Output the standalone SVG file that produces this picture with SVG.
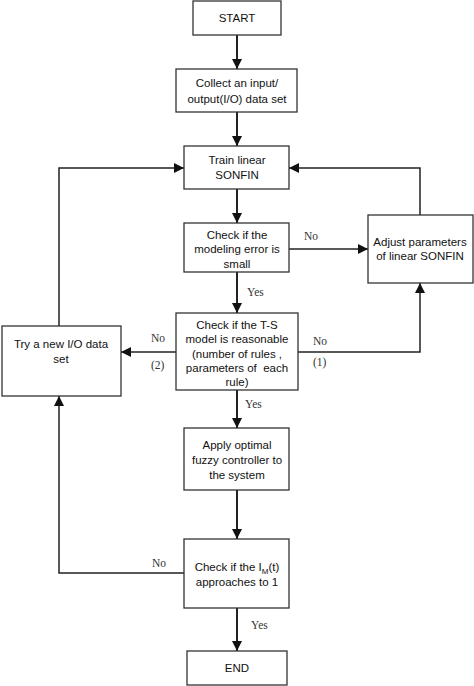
<svg xmlns="http://www.w3.org/2000/svg" width="474" height="686" viewBox="0 0 474 686">
<defs>
<marker id="ah" viewBox="0 0 10 10" refX="10" refY="5" markerWidth="10" markerHeight="10" markerUnits="userSpaceOnUse" orient="auto"><path d="M0,0 L10,5 L0,10 z" fill="#111"/></marker>
<style>
.box{fill:#fff;stroke:#333;stroke-width:1.3}
.t{font-family:"Liberation Sans",Arial,sans-serif;font-size:11.5px;fill:#111;text-anchor:middle}
.l{font-family:"Liberation Serif","Times New Roman",serif;font-size:11.5px;fill:#333}
.c{fill:none;stroke:#222;stroke-width:1.5}
.v{fill:none;stroke:#222;stroke-width:2}
</style>
</defs>
<rect width="474" height="686" fill="#fff"/>
<g id="connectors">
<path class="v" d="M237,35 V69" marker-end="url(#ah)"/>
<path class="v" d="M237,112 V146" marker-end="url(#ah)"/>
<path class="v" d="M237,189 V223" marker-end="url(#ah)"/>
<path class="v" d="M237,272 V313" marker-end="url(#ah)"/>
<path class="v" d="M237,390 V428" marker-end="url(#ah)"/>
<path class="v" d="M237,490 V539" marker-end="url(#ah)"/>
<path class="v" d="M237,608 V651" marker-end="url(#ah)"/>
<path class="c" d="M289,249 H368" marker-end="url(#ah)"/>
<path class="c" d="M420,215 V168 H289" marker-end="url(#ah)"/>
<path class="c" d="M298,352 H420 V283" marker-end="url(#ah)"/>
<path class="c" d="M176,352 H121" marker-end="url(#ah)"/>
<path class="c" d="M59,326 V168 H184" marker-end="url(#ah)"/>
<path class="c" d="M184,573 H59 V396" marker-end="url(#ah)"/>
<text class="l" x="304" y="240">No</text>
<text class="l" x="247" y="296">Yes</text>
<text class="l" x="151" y="342">No</text>
<text class="l" x="151" y="369">(2)</text>
<text class="l" x="313" y="345">No</text>
<text class="l" x="313" y="366">(1)</text>
<text class="l" x="245" y="408">Yes</text>
<text class="l" x="152" y="567">No</text>
<text class="l" x="251" y="629">Yes</text>
</g>
<g id="start"><rect class="box" x="193" y="1" width="88" height="34"/><text class="t" x="237" y="22">START</text></g>
<g id="collect"><rect class="box" x="176" y="69" width="121" height="43"/><text class="t" x="237" y="87">Collect an input/</text><text class="t" x="237" y="103">output(I/O) data set</text></g>
<g id="train"><rect class="box" x="184" y="146" width="105" height="43"/><text class="t" x="237" y="164">Train linear</text><text class="t" x="237" y="179">SONFIN</text></g>
<g id="check-error"><rect class="box" x="184" y="223" width="105" height="49"/><text class="t" x="237" y="239">Check if the</text><text class="t" x="237" y="253">modeling error is</text><text class="t" x="237" y="268">small</text></g>
<g id="adjust"><rect class="box" x="368" y="215" width="105" height="68"/><text class="t" x="420" y="246">Adjust parameters</text><text class="t" x="420" y="260">of linear SONFIN</text></g>
<g id="try"><rect class="box" x="2" y="326" width="119" height="70"/><text class="t" x="61" y="348">Try a new I/O data</text><text class="t" x="61" y="363">set</text></g>
<g id="check-ts"><rect class="box" x="176" y="313" width="122" height="77"/><text class="t" x="237" y="329">Check if the T-S</text><text class="t" x="237" y="343">model is reasonable</text><text class="t" x="237" y="358">(number of rules ,</text><text class="t" x="237" y="372" xml:space="preserve">parameters of  each</text><text class="t" x="237" y="386">rule)</text></g>
<g id="apply"><rect class="box" x="184" y="428" width="105" height="62"/><text class="t" x="237" y="449">Apply optimal</text><text class="t" x="237" y="464">fuzzy controller to</text><text class="t" x="237" y="479">the system</text></g>
<g id="check-im"><rect class="box" x="184" y="539" width="105" height="69"/><text class="t" x="237" y="571">Check if the I<tspan font-size="8" dy="3">M</tspan><tspan dy="-3">(t)</tspan></text><text class="t" x="237" y="586">approaches to 1</text></g>
<g id="end"><rect class="box" x="187" y="651" width="100" height="34"/><text class="t" x="237" y="672">END</text></g>
</svg>
